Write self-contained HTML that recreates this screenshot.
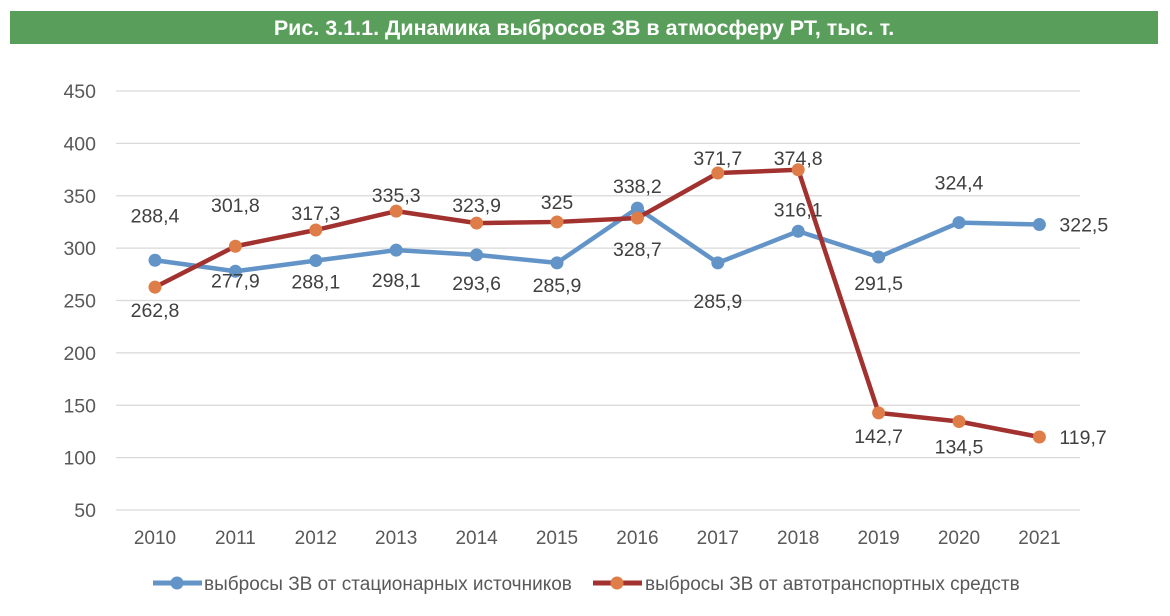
<!DOCTYPE html>
<html><head><meta charset="utf-8"><style>
body{margin:0;background:#fff;width:1170px;height:611px;overflow:hidden;font-family:"Liberation Sans","DejaVu Sans",sans-serif}
</style></head><body>
<svg id="c" width="1170" height="611" xmlns="http://www.w3.org/2000/svg">
<rect x="10" y="11" width="1148" height="33" fill="#5a9e5b"/>
<text x="584" y="35" text-anchor="middle" fill="#fff" font-weight="bold" font-size="21.5">Рис. 3.1.1. Динамика выбросов ЗВ в атмосферу РТ, тыс. т.</text>
<g id="grid"></g><g id="lines"></g><g id="lbl"></g>
<g>
<line x1="153" y1="583" x2="202" y2="583" stroke="#6394c8" stroke-width="5"/>
<circle cx="177" cy="583" r="6.5" fill="#6394c8"/>
<text x="204" y="590" font-size="19" fill="#595959">выбросы ЗВ от стационарных источников</text>
<line x1="593" y1="583" x2="642" y2="583" stroke="#a2322f" stroke-width="5"/>
<circle cx="617" cy="583" r="6.5" fill="#de7d48"/>
<text x="645" y="590" font-size="19" fill="#595959">выбросы ЗВ от автотранспортных средств</text>
</g>
</svg>
<script>
const years=["2010","2011","2012","2013","2014","2015","2016","2017","2018","2019","2020","2021"];
const stationary=[288.4,277.9,288.1,298.1,293.6,285.9,338.2,285.9,316.1,291.5,324.4,322.5];
const transport=[262.8,301.8,317.3,335.3,323.9,325,328.7,371.7,374.8,142.7,134.5,119.7];
const yTicks=[50,100,150,200,250,300,350,400,450];
const blueOff=[-45,9,21,30,28,22,-22,38,-22,26,-40,0];
const redOff=[23,-41,-17,-16,-18,-20,31,-15,-12,23,25,0];
const NS="http://www.w3.org/2000/svg";
const X=i=>155+i*80.4;
const Y=v=>510-(v-50)*1.0475;
function mk(t,a,p){const e=document.createElementNS(NS,t);for(const k in a)e.setAttribute(k,a[k]);p.appendChild(e);return e;}
const g=document.getElementById('grid'),L=document.getElementById('lines'),lb=document.getElementById('lbl');
yTicks.forEach(t=>{
 const l=mk('line',{x1:116,x2:1080,y1:Y(t),y2:Y(t),stroke:'#d9d9d9','stroke-width':1.3},g);
 
 
 const tx=mk('text',{x:96,y:Y(t)+7,'text-anchor':'end','font-size':19.5,fill:'#595959'},g);tx.textContent=t;
 
 
});
years.forEach((y,i)=>{
 const tx=mk('text',{x:X(i),y:544,'text-anchor':'middle','font-size':19,fill:'#595959'},g);tx.textContent=y;
 
 
});
function series(vals,lc,mc,off,name){
 const p=mk('polyline',{points:vals.map((v,i)=>X(i)+','+Y(v)).join(' '),fill:'none',stroke:lc,'stroke-width':4.5,'stroke-linejoin':'round'},L);
 
 
 vals.forEach((v,i)=>{
  const c=mk('circle',{cx:X(i),cy:Y(v),r:6.5,fill:mc},L);
  
  
  const last=i===vals.length-1;
  const t=mk('text',{x:last?X(i)+20:X(i),y:Y(v)+off[i]+7,'text-anchor':last?'start':'middle','font-size':19.5,fill:'#404040'},lb);
  t.textContent=String(v).replace('.',',');
  
  
 });
}
series(stationary,'#6394c8','#6394c8',blueOff,'stationary');
series(transport,'#a2322f','#de7d48',redOff,'transport');
</script>
</body></html>
